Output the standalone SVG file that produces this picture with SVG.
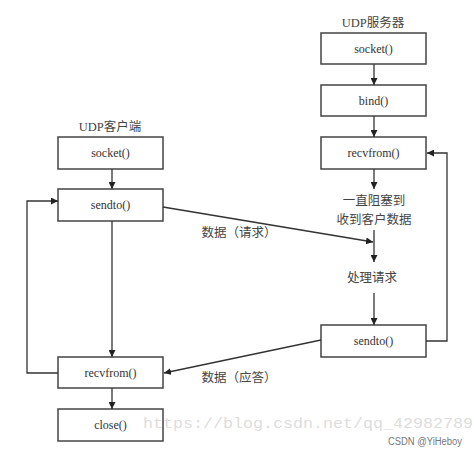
<svg xmlns="http://www.w3.org/2000/svg" width="474" height="451" viewBox="0 0 474 451">
<style>
.box{fill:#fff;stroke:#444;stroke-width:1.5}
.lbl{font-family:"Liberation Serif","Noto Sans CJK SC",serif;font-size:12px;fill:#333;text-anchor:middle}
.cn{font-family:"Liberation Serif","Noto Sans CJK SC",serif;font-size:12.5px;fill:#444;text-anchor:middle}
.ln{fill:none;stroke:#333;stroke-width:1.3}
</style>
<defs>
<marker id="ah" viewBox="0 0 10 10" refX="10" refY="5" markerWidth="7" markerHeight="7" markerUnits="userSpaceOnUse" orient="auto">
<path d="M0,0 L10,5 L0,10 z" fill="#222"/>
</marker>
</defs>
<rect width="474" height="451" fill="#fff"/>
<text class="cn" x="373" y="27">UDP服务器</text>
<text class="cn" x="110" y="131">UDP客户端</text>
<g id="s_socket"><rect class="box" x="321" y="33" width="105" height="31"/><text class="lbl" x="373.5" y="52.5">socket()</text></g>
<g id="s_bind"><rect class="box" x="321" y="85" width="105" height="31"/><text class="lbl" x="373.5" y="104.5">bind()</text></g>
<g id="s_recvfrom"><rect class="box" x="321" y="137" width="105" height="32"/><text class="lbl" x="373.5" y="157">recvfrom()</text></g>
<g id="s_block"><text class="cn" x="374" y="205">一直阻塞到</text><text class="cn" x="374" y="224">收到客户数据</text></g>
<g id="s_process"><text class="cn" x="372" y="282">处理请求</text></g>
<g id="s_sendto"><rect class="box" x="321" y="325" width="105" height="32"/><text class="lbl" x="373.5" y="345">sendto()</text></g>
<g id="c_socket"><rect class="box" x="58" y="137" width="105" height="32"/><text class="lbl" x="110.5" y="157">socket()</text></g>
<g id="c_sendto"><rect class="box" x="58" y="189" width="105" height="32"/><text class="lbl" x="110.5" y="209">sendto()</text></g>
<g id="c_recvfrom"><rect class="box" x="58" y="357" width="105" height="31"/><text class="lbl" x="110.5" y="376.5">recvfrom()</text></g>
<g id="c_close"><rect class="box" x="58" y="409" width="105" height="32"/><text class="lbl" x="110.5" y="429">close()</text></g>
<g id="connectors">
<line class="ln" x1="374" y1="64" x2="374" y2="85" marker-end="url(#ah)"/>
<line class="ln" x1="374" y1="116" x2="374" y2="137" marker-end="url(#ah)"/>
<line class="ln" x1="374" y1="169" x2="374" y2="189" marker-end="url(#ah)"/>
<line class="ln" x1="374" y1="230" x2="374" y2="262" marker-end="url(#ah)"/>
<line class="ln" x1="374" y1="293" x2="374" y2="325" marker-end="url(#ah)"/>
<polyline class="ln" points="426,341 447,341 447,153 427,153" marker-end="url(#ah)"/>
<line class="ln" x1="112" y1="169" x2="112" y2="189" marker-end="url(#ah)"/>
<line class="ln" x1="112" y1="221" x2="112" y2="357" marker-end="url(#ah)"/>
<line class="ln" x1="112" y1="388" x2="112" y2="409" marker-end="url(#ah)"/>
<polyline class="ln" points="58,373 27,373 27,201 58,201" marker-end="url(#ah)"/>
<line class="ln" x1="163" y1="207" x2="373" y2="242" marker-end="url(#ah)"/>
<line class="ln" x1="321" y1="340" x2="164" y2="373" marker-end="url(#ah)"/>
</g>
<text class="cn" x="239" y="237">数据（请求）</text>
<text class="cn" x="239" y="382">数据（应答）</text>
<text x="143" y="428" font-family="Liberation Mono,monospace" font-size="14.5" fill="#ddd" textLength="330" lengthAdjust="spacingAndGlyphs">https://blog.csdn.net/qq_42982789</text>
<text x="388" y="445" font-family="Liberation Sans,sans-serif" font-size="10" fill="#777" textLength="74" lengthAdjust="spacingAndGlyphs">CSDN @YiHeboy</text>
</svg>
